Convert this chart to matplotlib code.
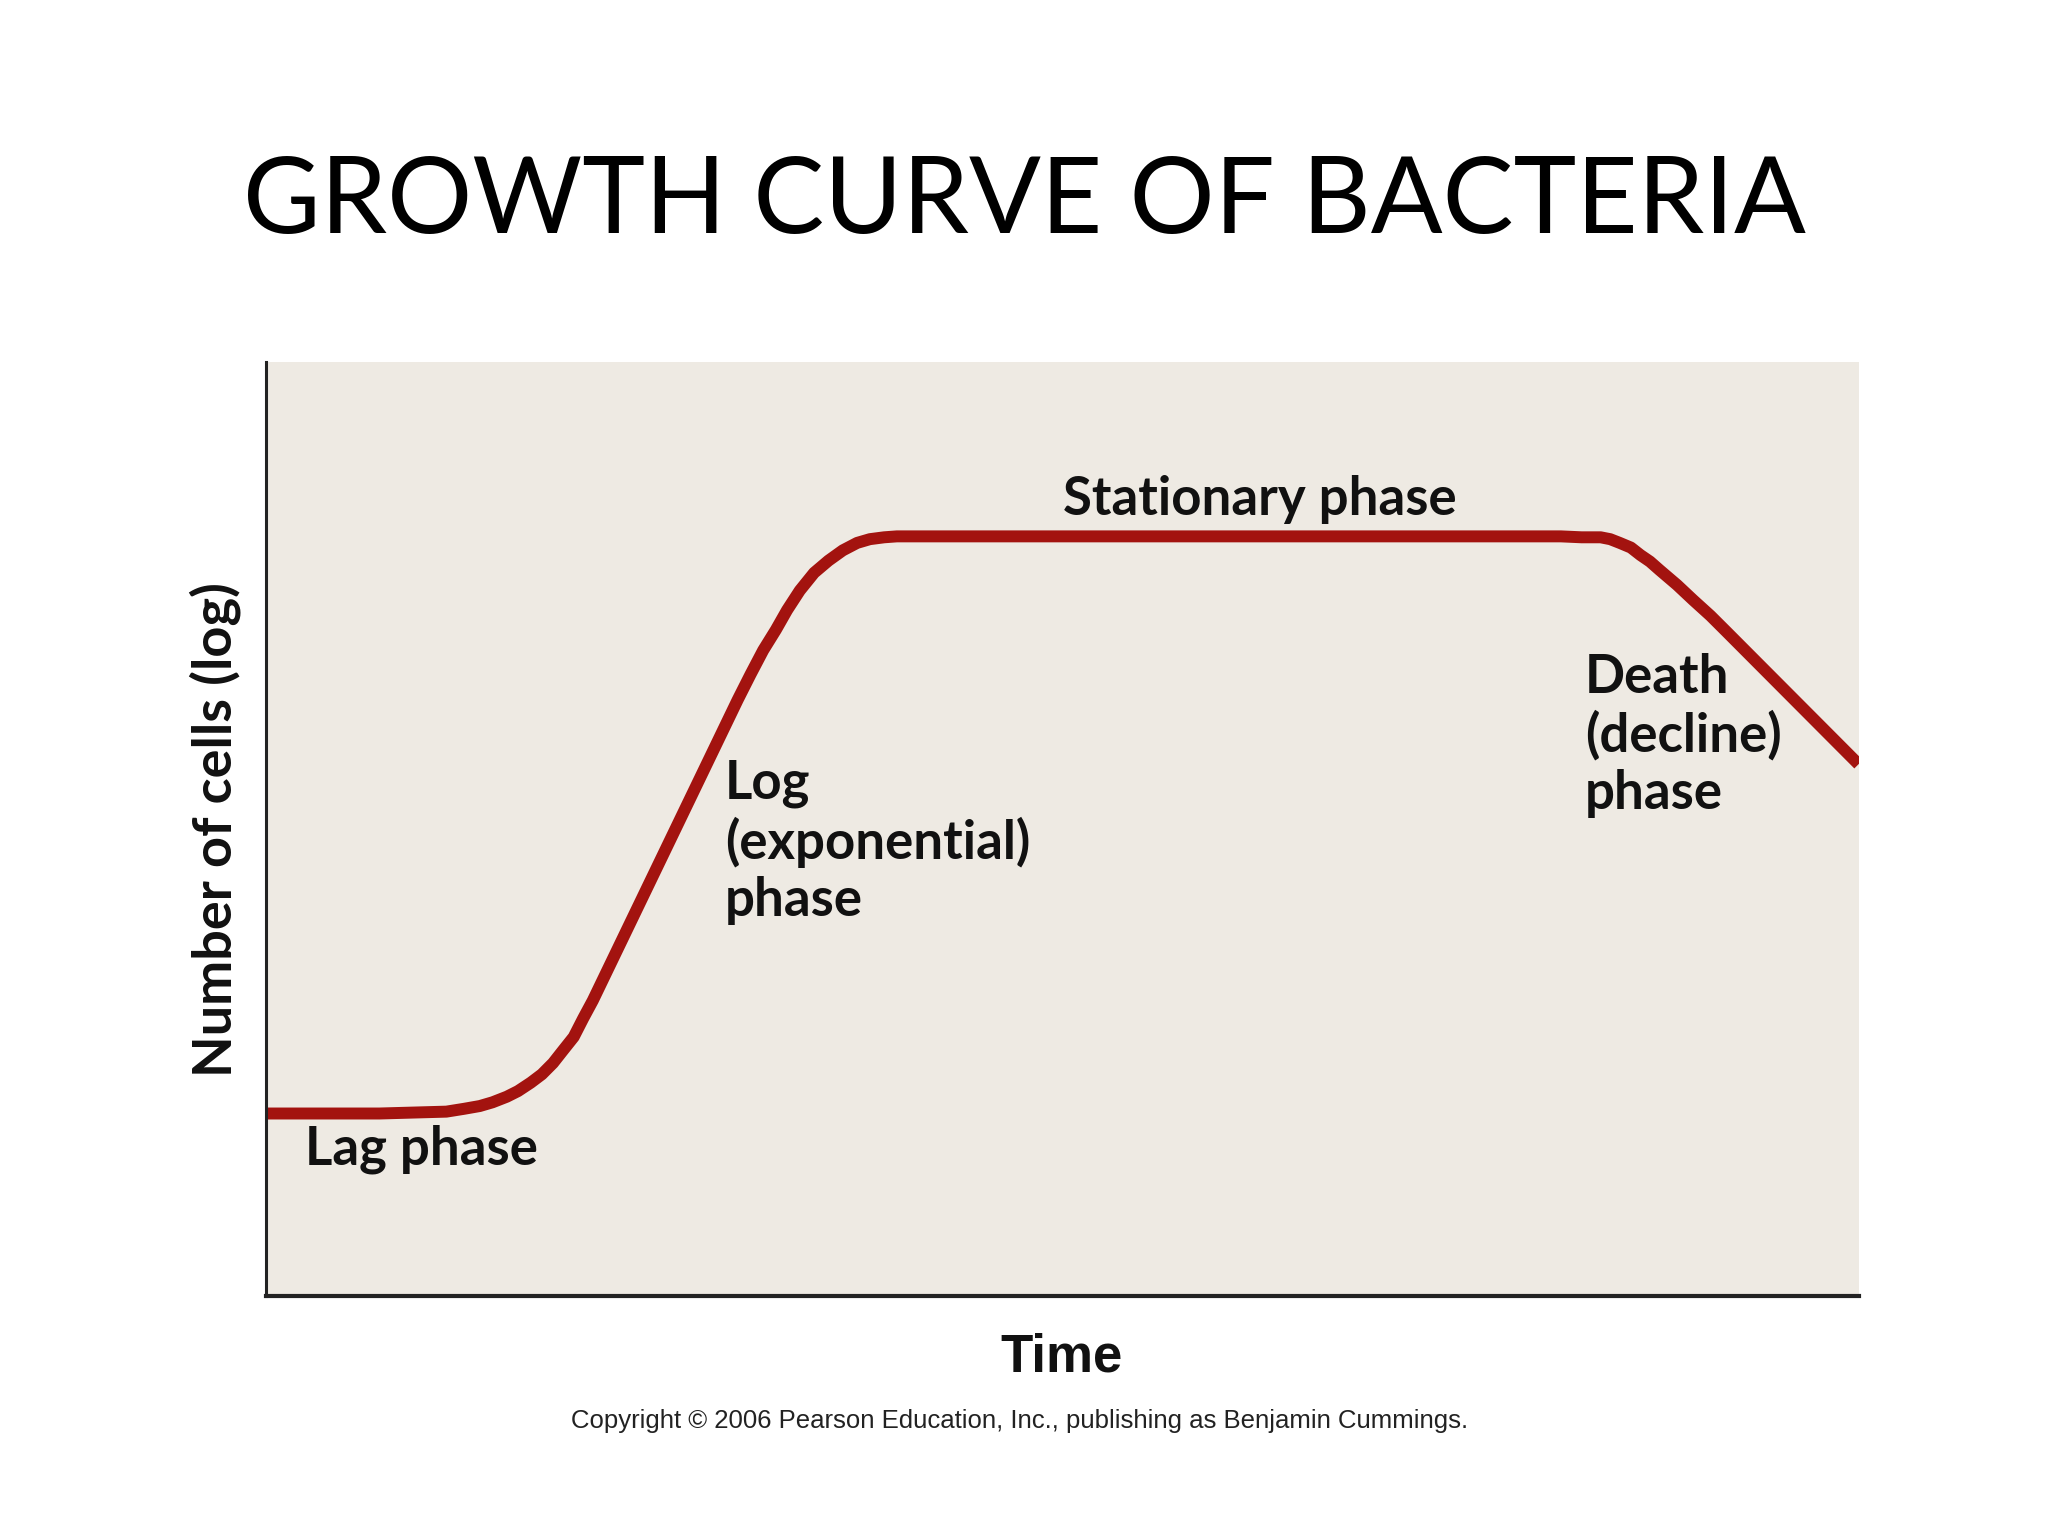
import matplotlib
matplotlib.use("Agg")
import matplotlib.pyplot as plt

# curve points (time 0-10, log cells 0-10)
time = [0.0, 0.71, 0.92, 1.13, 1.24, 1.34, 1.42, 1.51, 1.58, 1.66, 1.73, 1.80, 1.86, 1.93, 1.99, 2.05,
        2.96, 3.04, 3.12, 3.20, 3.27, 3.35, 3.44, 3.53, 3.62, 3.71, 3.79, 3.88, 3.96,
        8.13, 8.26, 8.38, 8.44, 8.50, 8.57, 8.63, 8.69, 8.75, 8.86, 8.96, 9.07, 9.17, 10.0]
cells = [1.95, 1.95, 1.96, 1.97, 2.00, 2.03, 2.07, 2.13, 2.19, 2.28, 2.37, 2.49, 2.62, 2.77, 2.97, 3.16,
         6.38, 6.65, 6.91, 7.13, 7.34, 7.55, 7.74, 7.87, 7.98, 8.06, 8.10, 8.12, 8.13,
         8.13, 8.12, 8.12, 8.10, 8.06, 8.01, 7.93, 7.86, 7.77, 7.61, 7.45, 7.28, 7.11, 5.69]

phase_names = ["Lag phase", "Log\n(exponential)\nphase", "Stationary phase", "Death\n(decline)\nphase"]
phase_x = [0.24, 2.88, 6.24, 8.28]
phase_y = [1.57, 4.86, 8.52, 6.00]
phase_ha = ["left", "left", "center", "left"]

bg = "#EEEAE3"
red = "#A3130F"
lbl_font = ["Lato", "DejaVu Sans"]
narrow = ["Liberation Sans Narrow", "Liberation Sans"]

fig = plt.figure(figsize=(20.48, 15.36), dpi=100)
fig.patch.set_facecolor("white")
ax = fig.add_axes([0.1301, 0.1565, 0.7774, 0.608])
ax.set_facecolor(bg)

ax.plot(time, cells, color=red, lw=8.6, solid_capstyle="butt", solid_joinstyle="round")
ax.set_xlim(0, 10)
ax.set_ylim(0, 10)

for name, x, y, ha in zip(phase_names, phase_x, phase_y, phase_ha):
    ax.text(x, y, name, ha=ha, va="center", fontsize=38, fontweight="bold",
            family=lbl_font, linespacing=1.2, color="#111111")

ax.spines["top"].set_visible(False)
ax.spines["right"].set_visible(False)
ax.spines["left"].set_linewidth(2.2)
ax.spines["bottom"].set_linewidth(3.0)
ax.spines["left"].set_color("#222222")
ax.spines["bottom"].set_color("#222222")
ax.set_xticks([])
ax.set_yticks([])

fig.text(0.105, 0.46, "Number of cells (log)", rotation=90, ha="center", va="center",
         fontsize=39, fontweight="bold", family=lbl_font, color="#111111")
fig.text(0.5185, 0.116, "Time", ha="center", va="center", fontsize=38, fontweight="bold",
         family=narrow, color="#111111")
fig.text(0.498, 0.075, "Copyright \u00a9 2006 Pearson Education, Inc., publishing as Benjamin Cummings.",
         ha="center", va="center", fontsize=18.5, family=narrow, color="#222222")

fig.text(0.5, 0.868, "GROWTH CURVE OF BACTERIA", ha="center", va="center",
         fontsize=76.5, family=["Lato", "DejaVu Sans"], color="black")

fig.savefig("out.png", dpi=100)
